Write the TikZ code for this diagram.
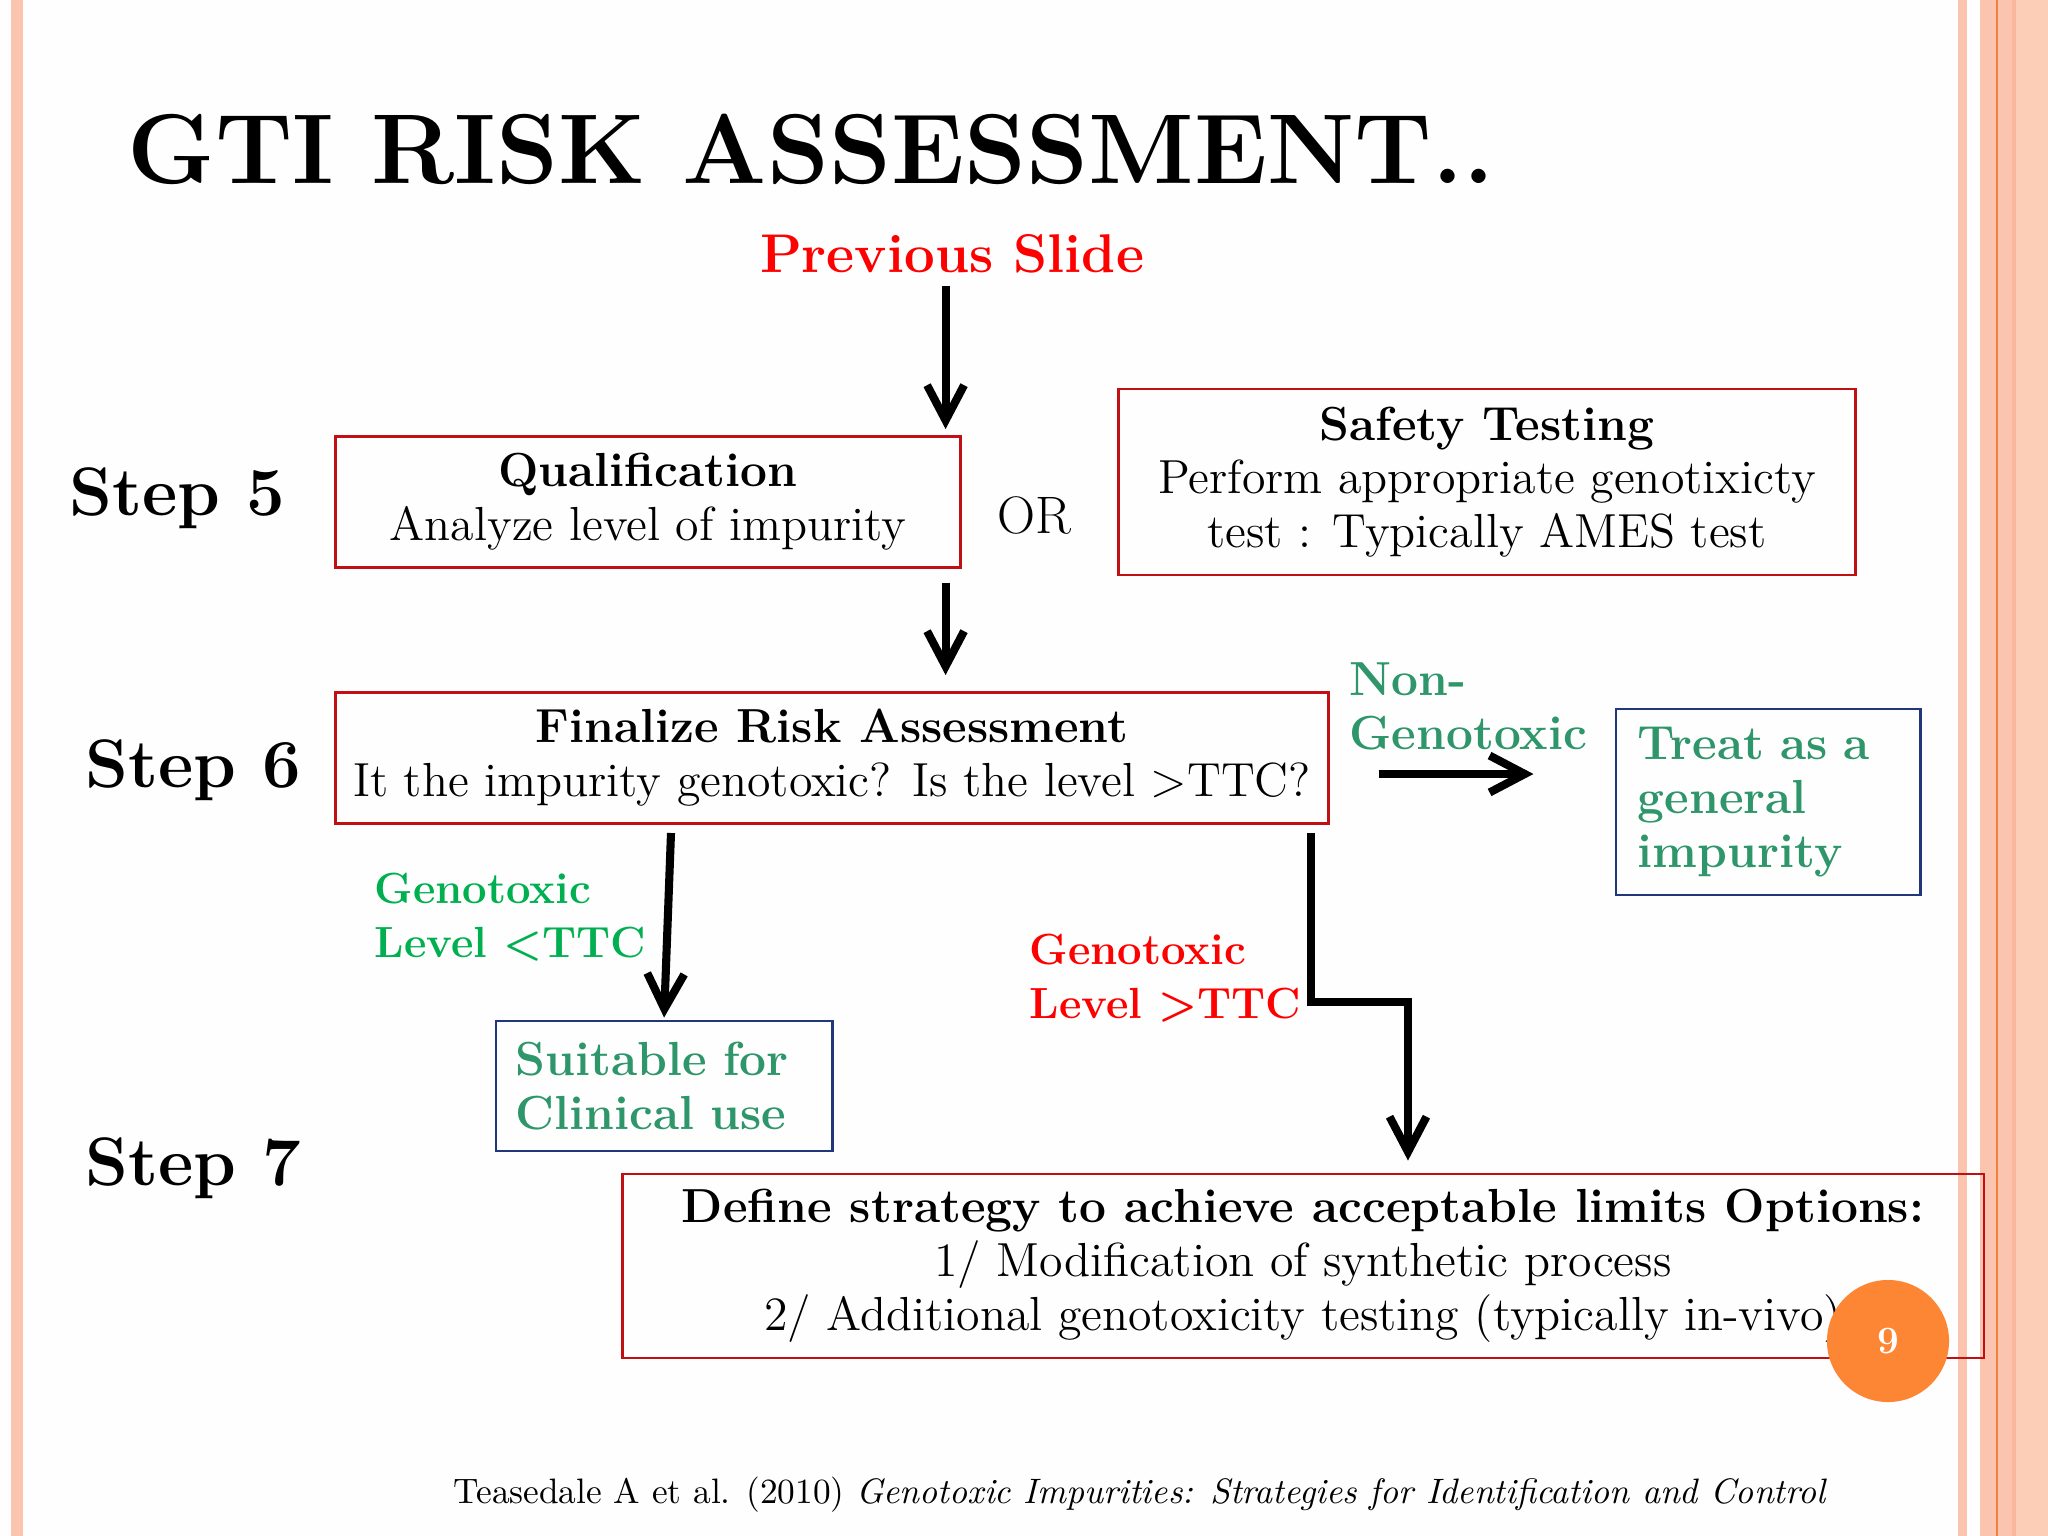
\documentclass[tikz,border=0pt]{standalone}
\usepackage{tikz}
\usetikzlibrary{arrows.meta}

\definecolor{boxred}{RGB}{192,16,20}
\definecolor{boxblue}{RGB}{32,56,122}
\definecolor{tealgreen}{RGB}{46,150,106}
\definecolor{brightgreen}{RGB}{0,176,80}
\definecolor{textred}{RGB}{255,0,0}
\definecolor{stripe}{RGB}{251,196,174}
\definecolor{stripedark}{RGB}{249,184,158}
\definecolor{stripelight}{RGB}{252,206,183}
\definecolor{orangeline}{RGB}{240,128,60}
\definecolor{pagecirc}{RGB}{252,134,52}
\definecolor{paper}{RGB}{253,254,253}

\begin{document}
\begin{tikzpicture}[
            x=0.01cm, y=-0.01cm,
            >={Straight Barb[length=10pt,width=10.5pt]},
            arr/.style={line width=2.3pt, ->},
            body/.style={font=\fontsize{13.6}{15.3}\selectfont},
            redbox/.style={draw=boxred, line width=0.8pt, inner sep=0pt, align=center, body},
            bluebox/.style={draw=boxblue, line width=0.8pt, inner ysep=0pt, align=left,
                font=\fontsize{13.6}{15.3}\selectfont\bfseries, text=tealgreen},
            lbl/.style={anchor=west, align=left, inner sep=0pt, font=\fontsize{13.6}{15.3}\selectfont\bfseries},
            genlbl/.style={anchor=west, align=left, inner sep=0pt, font=\fontsize{12.4}{15.3}\selectfont\bfseries},
            steplbl/.style={anchor=west, inner sep=0pt, font=\fontsize{19.5}{22}\selectfont\bfseries},
    ]
    \useasboundingbox (0,0) rectangle (2048,1536);
    \fill[paper] (0,0) rectangle (2048,1536);
    \fill[stripe] (11,0) rectangle (23,1536);
    \fill[stripe] (1958,0) rectangle (1967,1536);
    \fill[stripe] (1980,0) rectangle (2012,1536);
    \fill[stripedark] (2012,0) rectangle (2016,1536);
    \fill[stripelight] (2016,0) rectangle (2048,1536);
    \fill[orangeline] (1996,0) rectangle (1998,1536);

    \node[anchor=base west, inner sep=0pt, font=\fontsize{28.2}{31}\selectfont\bfseries] (title) at (127,183) {GTI RISK ASSESSMENT..};
    \node[font=\fontsize{15.5}{18}\selectfont\bfseries, text=textred] (prev) at (952,254) {Previous Slide};

    \node[steplbl] (step5) at (69,498) {Step 5};
    \node[steplbl] (step6) at (85,770) {Step 6};
    \node[steplbl] (step7) at (85,1168) {Step 7};

    \node[redbox, minimum width=6.24cm, minimum height=1.31cm] (qual) at (648,502)
        {\textbf{Qualification}\\Analyze level of impurity};
    \node[font=\fontsize{15}{18}\selectfont] (or) at (1034,515) {OR};
    \node[redbox, minimum width=7.37cm, minimum height=1.86cm] (safety) at (1487,482)
        {\textbf{Safety Testing}\\Perform appropriate genotixicty\\test : Typically AMES test};
    \node[redbox, minimum width=9.92cm, minimum height=1.31cm] (final) at (832,758)
        {\textbf{Finalize Risk Assessment}\\It the impurity genotoxic? Is the level >TTC?};
    \node[bluebox, text width=2.6cm, inner xsep=0.22cm, minimum height=1.86cm] (treat) at (1768,802)
        {Treat as a\\general\\impurity};
    \node[bluebox, text width=2.96cm, inner xsep=0.2cm, minimum height=1.30cm] (suit) at (664,1086)
        {Suitable for\\Clinical use};
    \node[redbox, minimum width=13.61cm, minimum height=1.84cm] (define) at (1303,1266)
        {\textbf{Define strategy to achieve acceptable limits Options:}\\1/ Modification of synthetic process\\2/ Additional genotoxicity testing (typically in-vivo)};

    \node[lbl, text=tealgreen] (nongen) at (1349,706) {Non-\\Genotoxic};
    \node[genlbl, text=brightgreen] (genlow) at (374,917) {Genotoxic\\Level <TTC};
    \node[genlbl, text=textred] (genhigh) at (1029,978) {Genotoxic\\Level >TTC};

    \coordinate (a5) at ([xshift=-0.16cm]qual.south east);
    \draw[arr, shorten >=0.06cm] (a5 |- prev.south) -- (a5 |- qual.north);
    \draw[arr, shorten <=0.14cm, shorten >=0.16cm] (a5) -- (a5 |- final.north);
    \draw[arr, shorten <=0.49cm, shorten >=0.81cm] (final.east |- 0,774) -- (treat.west |- 0,774);
    \coordinate (g1) at (671,833);
    \draw[arr, shorten >=0.02cm] (g1) -- (suit.north);
    \coordinate (e1) at (1311,833);
    \coordinate (e2) at (1408,1002);
    \draw[arr, shorten >=0.12cm] (e1) |- (e2) -- (e2 |- define.north);

    \node[circle, fill=pagecirc, minimum size=1.22cm, inner sep=0pt, text=white,
        font=\fontsize{11}{13}\selectfont\bfseries] (pnum) at (1888,1341) {9};
    \node[anchor=base west, inner sep=0pt, font=\fontsize{10.05}{12}\selectfont] (cite) at (453,1503)
        {Teasedale A et al. (2010) \textit{Genotoxic Impurities: Strategies for Identification and Control}};
    \end{tikzpicture}
\end{document}
